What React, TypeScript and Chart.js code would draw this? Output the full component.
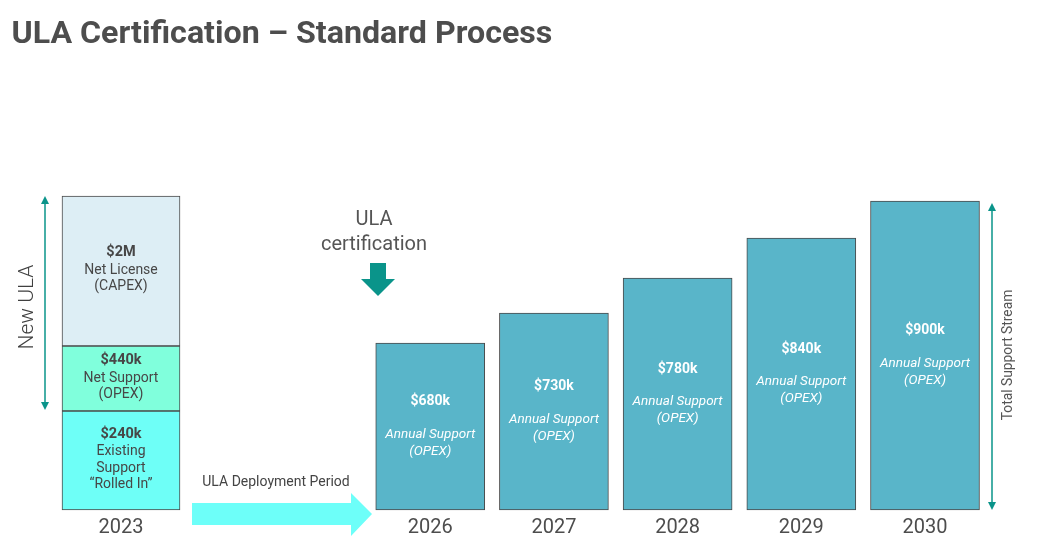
import React, { useEffect, useRef } from "react";
import { Chart, registerables } from "chart.js";

Chart.register(...registerables);

// ---- data ----
const slotLabels = ["2023", "", "", "", "", "2026", "", "2027", "", "2028", "", "2029", "", "2030"];
const ulaYear = "2023";
const ulaSegmentNames = ["Existing Support", "Net Support", "Net License"];
const ulaSegmentHeights = [99, 65, 150];
const ulaSegmentValues = ["$240k", "$440k", "$2M"];
const ulaSegmentLines = [["Existing", "Support", "\u201CRolled In\u201D"], ["Net Support", "(OPEX)"], ["Net License", "(CAPEX)"]];
const ulaSegmentColors = ["#6efff7", "#80ffdc", "#ddeef5"];
const supportYears = ["2026", "2027", "2028", "2029", "2030"];
const supportHeights = [167, 197, 232, 272, 309];
const supportValues = ["$680k", "$730k", "$780k", "$840k", "$900k"];
const supportLines = ["Annual Support", "(OPEX)"];

const TITLE = "ULA Certification \u2013 Standard Process";
const FONT = "Roboto";
const TEXT = "#4d4d4d";
const TEAL = "#0a948a";

function arrowHeadV(ctx: CanvasRenderingContext2D, x: number, y: number, dir: number) {
  ctx.beginPath();
  ctx.moveTo(x, y);
  ctx.lineTo(x - 4, y + dir * 8);
  ctx.lineTo(x + 4, y + dir * 8);
  ctx.closePath();
  ctx.fill();
}

const annotations = {
  id: "annotations",
  afterDatasetsDraw(chart: any) {
    const ctx: CanvasRenderingContext2D = chart.ctx;
    ctx.save();
    ctx.textAlign = "center";
    ctx.textBaseline = "middle";
    // 2023 segments
    ulaSegmentHeights.forEach((_, i) => {
      const el = chart.getDatasetMeta(i).data[slotLabels.indexOf(ulaYear)];
      if (!el) return;
      const c = (el.y + el.base) / 2 - 0.5;
      const lines = [ulaSegmentValues[i], ...ulaSegmentLines[i]];
      const n = lines.length;
      lines.forEach((t, k) => {
        const y = c + (k - (n - 1) / 2) * 16.3 - (k === 0 ? 1.5 : 0);
        ctx.fillStyle = "#474747";
        ctx.font = k === 0 ? `bold 14.5px ${FONT}` : `14px ${FONT}`;
        ctx.fillText(t, el.x, y);
      });
    });
    // support bars
    const meta = chart.getDatasetMeta(ulaSegmentHeights.length);
    supportYears.forEach((yr, i) => {
      const el = meta.data[slotLabels.indexOf(yr)];
      if (!el) return;
      const c = (el.y + el.base) / 2;
      ctx.fillStyle = "#ffffff";
      ctx.font = `bold 14px ${FONT}`;
      ctx.fillText(supportValues[i], el.x, c - 25);
      ctx.font = `italic 13.5px ${FONT}`;
      ctx.fillText(supportLines[0], el.x, c + 8);
      ctx.fillText(supportLines[1], el.x, c + 25);
    });
    ctx.restore();
  },
  afterDraw(chart: any) {
    const ctx: CanvasRenderingContext2D = chart.ctx;
    ctx.save();
    // title
    ctx.fillStyle = TEXT;
    ctx.font = `bold 32.2px ${FONT}`;
    ctx.textAlign = "left";
    ctx.textBaseline = "alphabetic";
    ctx.fillText(TITLE, 3.5, 35);

    // New ULA vertical label + double arrow
    ctx.save();
    ctx.translate(20, 299);
    ctx.rotate(-Math.PI / 2);
    ctx.textAlign = "center";
    ctx.textBaseline = "middle";
    ctx.font = `300 21px ${FONT}`;
    ctx.fillStyle = "#404040";
    ctx.fillText("New ULA", 0, 0);
    ctx.restore();

    ctx.strokeStyle = TEAL;
    ctx.fillStyle = TEAL;
    ctx.lineWidth = 1.5;
    ctx.beginPath();
    ctx.moveTo(37, 193);
    ctx.lineTo(37, 397);
    ctx.stroke();
    arrowHeadV(ctx, 37, 188, 1);
    arrowHeadV(ctx, 37, 402, -1);

    // Total support stream arrow
    ctx.beginPath();
    ctx.moveTo(984, 200);
    ctx.lineTo(984, 497);
    ctx.stroke();
    arrowHeadV(ctx, 984, 195, 1);
    arrowHeadV(ctx, 984, 502, -1);
    ctx.save();
    ctx.translate(1001, 347);
    ctx.rotate(-Math.PI / 2);
    ctx.textAlign = "center";
    ctx.textBaseline = "middle";
    ctx.font = `13.8px ${FONT}`;
    ctx.fillStyle = "#555555";
    ctx.fillText("Total Support Stream", 0, 0);
    ctx.restore();

    // ULA certification
    ctx.textAlign = "center";
    ctx.textBaseline = "middle";
    ctx.font = `20px ${FONT}`;
    ctx.fillStyle = "#555555";
    ctx.fillText("ULA", 366, 212);
    ctx.fillText("certification", 366, 237);
    ctx.fillStyle = TEAL;
    ctx.beginPath();
    ctx.moveTo(362, 255);
    ctx.lineTo(378, 255);
    ctx.lineTo(378, 271);
    ctx.lineTo(387, 271);
    ctx.lineTo(370, 288);
    ctx.lineTo(353, 271);
    ctx.lineTo(362, 271);
    ctx.closePath();
    ctx.fill();

    // Deployment arrow
    ctx.font = `14px ${FONT}`;
    ctx.fillStyle = "#444444";
    ctx.fillText("ULA Deployment Period", 268, 474);
    ctx.fillStyle = "#6dfff9";
    ctx.beginPath();
    ctx.moveTo(184, 495);
    ctx.lineTo(343, 495);
    ctx.lineTo(343, 485);
    ctx.lineTo(364, 506);
    ctx.lineTo(343, 528);
    ctx.lineTo(343, 517);
    ctx.lineTo(184, 517);
    ctx.closePath();
    ctx.fill();
    ctx.restore();
  },
};

export default function App() {
  const ref = useRef<HTMLCanvasElement | null>(null);
  useEffect(() => {
    if (!ref.current) return;
    const ulaDatasets = ulaSegmentHeights.map((h, i) => ({
      label: ulaSegmentNames[i],
      data: slotLabels.map((l) => (l === ulaYear ? h : null)),
      backgroundColor: ulaSegmentColors[i],
      borderColor: "#4a4a4a",
      borderWidth: 1,
      borderSkipped: false,
      barThickness: 118,
      clip: false,
    }));
    const supportDataset = {
      label: "Annual Support",
      data: slotLabels.map((l) => {
        const k = supportYears.indexOf(l);
        return k >= 0 ? supportHeights[k] : null;
      }),
      backgroundColor: "#59b5c9",
      borderColor: "#4a4a4a",
      borderWidth: 1,
      borderSkipped: false,
      barThickness: 109,
      clip: false,
    };
    const chart = new Chart(ref.current, {
      type: "bar",
      data: { labels: slotLabels, datasets: [...ulaDatasets, supportDataset] as any },
      options: {
        animation: false,
        responsive: true,
        maintainAspectRatio: false,
        layout: { padding: { left: 113, right: 109, top: 0, bottom: 0 } },
        plugins: { legend: { display: false }, title: { display: false }, tooltip: { enabled: false } },
        scales: {
          x: {
            type: "category",
            stacked: true,
            offset: false,
            grid: { display: false, drawTicks: false },
            border: { display: false },
            ticks: {
              autoSkip: false,
              maxRotation: 0,
              padding: 6,
              color: "#4d4d4d",
              font: { family: FONT, size: 20 },
            },
            afterFit: (s: any) => {
              s.height = 33;
            },
          },
          y: { stacked: true, display: false, min: 0, max: 502 },
        },
      },
      plugins: [annotations],
    });
    return () => chart.destroy();
  }, []);
  return (
    <div style={{ position: "relative", width: "100%", height: "535px" }}>
      <canvas ref={ref} />
    </div>
  );
}
